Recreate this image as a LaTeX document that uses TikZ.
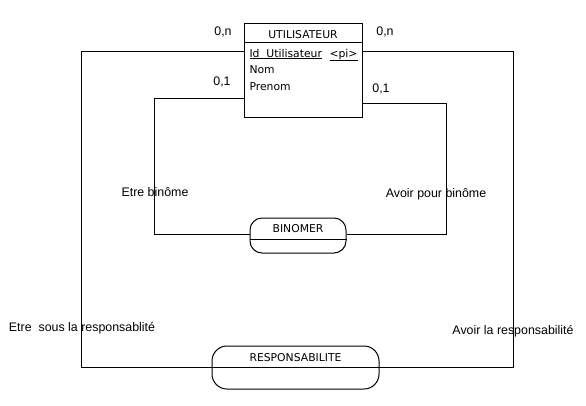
\documentclass[tikz,border=0pt]{standalone}
\usepackage{fontspec}
\setmainfont{Liberation Sans}
\newfontfamily\boxfont{DejaVu Sans}
\usetikzlibrary{positioning}

\begin{document}
\begin{tikzpicture}
            [x=1pt,y=-1pt,line width=1pt,every node/.style={inner sep=0pt},
             lbl/.style={font=\fontsize{12.4}{14}\selectfont},
             txt/.style={font=\boxfont\fontsize{10.8}{13}\selectfont},
             entity/.style={draw, rectangle, minimum width=118pt, minimum height=94pt},
             relation/.style={draw, rectangle, rounded corners=#1}]
            \useasboundingbox (0,0) rectangle (586,405);

            % entite
            \node[entity] (util) at (303,70) {};
            \node[txt, anchor=base] (utitle) at (303,38) {UTILISATEUR};
            \draw ([yshift=-20pt]util.north west) -- ([yshift=-20pt]util.north east);
            \node[txt, anchor=base west] (uid) at (249,57) {\underline{Id\ \ Utilisateur}};
            \node[txt, anchor=base east] (upi) at (358,57) {\underline{<pi>}};
            \node[txt, anchor=base west] (unom) at (249,73) {Nom};
            \node[txt, anchor=base west] (uprenom) at (249,90) {Prenom};

            % associations
            \node[relation=12pt, minimum width=96pt, minimum height=35pt] (binomer) at (298,235.5) {};
            \node[txt, anchor=base] (btitle) at (298,232) {BINOMER};
            \draw ([yshift=-3.5pt]binomer.west) -- ([yshift=-3.5pt]binomer.east);
            \node[relation=15pt, minimum width=167pt, minimum height=43pt] (resp) at (295.5,367.5) {};
            \node[txt, anchor=base] (rtitle) at (295.5,361) {RESPONSABILITE};
            \draw (resp.west) -- (resp.east);

            % pattes
            \draw ([yshift=19pt]util.west) -- ++(-162,0) |- (resp.west);
            \draw ([yshift=19pt]util.east) -- ++(151,0) |- (resp.east);
            \draw ([yshift=-28pt]util.west) -- ++(-89,0) |- ([yshift=1.5pt]binomer.west);
            \draw ([yshift=-33pt]util.east) -- ++(84,0) |- ([yshift=1.5pt]binomer.east);

            % cardinalites et roles
            \node[lbl, anchor=base] (c1) at (223,35) {0,n};
            \node[lbl, anchor=base] (c2) at (385,35) {0,n};
            \node[lbl, anchor=base] (c3) at (222,85) {0,1};
            \node[lbl, anchor=base] (c4) at (381,92) {0,1};
            \node[lbl, anchor=base] (r1) at (155,196) {Etre binôme};
            \node[lbl, anchor=base] (r2) at (436,197) {Avoir pour binôme};
            \node[lbl, anchor=base] (r3) at (82,331) {Etre\ \ sous la responsablité};
            \node[lbl, anchor=base] (r4) at (513,334) {Avoir la responsabilité};
          \end{tikzpicture}
\end{document}
